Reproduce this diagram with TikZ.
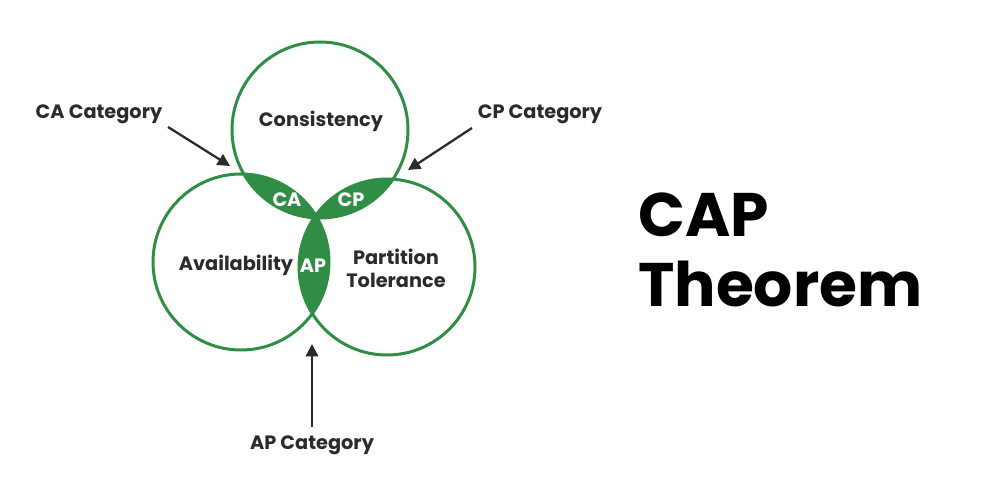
\documentclass[tikz,border=0pt]{standalone}
\usepackage{fontspec}
\setmainfont{Poppins}
\usetikzlibrary{arrows.meta}
\definecolor{gg}{HTML}{2F8D46}
\definecolor{dk}{HTML}{2B2B2B}
\begin{document}
\begin{tikzpicture}[x=0.02cm,y=-0.02cm,
  lbl/.style={font=\fontsize{11}{13}\selectfont\bfseries,text=dk,align=center},
  wl/.style={font=\fontsize{11}{13}\selectfont\bfseries,text=white},
  arr/.style={-{Triangle[length=7pt,width=7pt]},line width=1.3pt,draw=dk}]
\useasboundingbox (0,0) rectangle (1000,500);
\def\cT{(320,130) circle (88)}
\def\cL{(241,262) circle (88)}
\def\cR{(387,267) circle (88)}
\begin{scope}\clip \cT; \fill[gg] \cL; \fill[gg] \cR; \end{scope}
\begin{scope}\clip \cL; \fill[gg] \cR; \end{scope}
\draw[gg,line width=1.7pt] \cT \cL \cR;
\node[lbl] (c) at (321,121) {Consistency};
\node[lbl] (a) at (236,265) {Availability};
\node[lbl] (p) at (396,268) {Partition\\Tolerance};
\node[wl] (ca) at (287,200) {CA};
\node[wl] (cp) at (351,200) {CP};
\node[wl] (ap) at (313,266) {AP};
\node[lbl] (cal) at (99,114) {CA Category};
\node[lbl] (cpl) at (540,114) {CP Category};
\node[lbl] (apl) at (312,445) {AP Category};
\coordinate (caT) at (230,166);
\coordinate (cpT) at (408,170);
\coordinate (apT) at (312,344);
\draw[arr] (168,127) -- (caT);
\draw[arr] (472,128) -- (cpT);
\draw[arr] (312,427) -- (apT);
\node[font=\fontsize{35}{40}\selectfont\bfseries,align=left,anchor=west] (t) at (632,250) {CAP\\Theorem};
\end{tikzpicture}
\end{document}
